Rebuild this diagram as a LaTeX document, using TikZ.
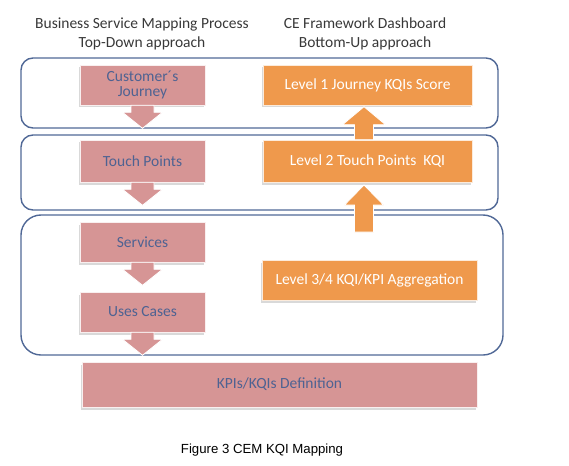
\documentclass[tikz,border=0pt]{standalone}
\usepackage{fontspec}
\setmainfont{Carlito}
\newfontfamily\capfont{Liberation Sans}
\usetikzlibrary{shadows}
\definecolor{rosefill}{RGB}{214,149,149}
\definecolor{rosetext}{RGB}{78,98,146}
\definecolor{orangefill}{RGB}{239,153,76}
\definecolor{frameblue}{RGB}{80,104,150}
\begin{document}
\begin{tikzpicture}[x=1pt,y=-1pt,
  frame/.style={draw=frameblue,line width=1.4pt,rounded corners=12pt},
  rosebox/.style={fill=rosefill,draw=white!85!rosefill,line width=0.6pt,text=rosetext,
    minimum width=125pt,minimum height=40pt,font=\fontsize{15.5}{15.5}\selectfont,align=center,
    drop shadow={shadow xshift=-1pt,shadow yshift=-2.5pt,fill=black!25,opacity=0.6}},
  levelbox/.style={fill=orangefill,draw=white!80!orangefill,line width=0.6pt,text=white,
    minimum width=209pt,minimum height=40pt,font=\fontsize{15.5}{16}\selectfont,
    drop shadow={shadow xshift=-1pt,shadow yshift=-2.5pt,fill=black!25,opacity=0.6}},
  downarr/.style={fill=rosefill,draw=white,line width=0.8pt},
  uparr/.style={fill=orangefill,draw=white,line width=0.8pt},
  heading/.style={font=\fontsize{15.5}{18.5}\selectfont,text=black!78,align=center}]
\useasboundingbox (0,0) rectangle (569,465);

% Headings of the two columns
\node[heading] (lefthead) at (142,34) {Business Service Mapping Process\\Top-Down approach};
\node[heading] (righthead) at (365,34) {CE Framework Dashboard\\Bottom-Up approach};

% Rounded frames of the three levels
\draw[frame] (21,58) rectangle (498,128);
\draw[frame] (21,135) rectangle (498,210);
\draw[frame,rounded corners=20pt] (21,215) rectangle (503,355);

% Top-down boxes
\node[rosebox] (cj) at (142.5,85) {Customer\textasciiacute s\\[-1pt]Journey};
\node[rosebox,minimum height=42pt] (tp) at (142.5,161) {Touch Points};
\node[rosebox] (sv) at (142.5,242) {Services};
\node[rosebox] (uc) at (142.5,312) {Uses Cases};
\node[rosebox,minimum width=395pt,minimum height=45pt] (kd) at (279.5,384.5) {KPIs/KQIs Definition};

% Bottom-up boxes
\node[levelbox] (l1) at (367.5,85) {Level 1 Journey KQIs Score};
\node[levelbox,minimum height=42pt] (l2) at (367.5,161) {Level 2 Touch Points\ \ KQI};
\node[levelbox,minimum width=215pt] (l3) at (369.5,280) {Level 3/4 KQI/KPI Aggregation};

% Block arrows going down
\foreach \n in {cj,tp,sv,uc}
  \path[downarr] (\n.south) ++(-11.5,0) -- ++(0,7) -- ++(-8.5,0) -- ++(20,16)
    -- ++(20,-16) -- ++(-8.5,0) -- ++(0,-7) -- cycle;

% Block arrows going up
\coordinate (base1) at ([xshift=-3.5pt]l2.north);
\coordinate (base2) at (364,232);
\path[uparr] (base1) ++(-9.5,0) -- ++(0,-15) -- ++(-12,0) -- ++(21.5,-18)
  -- ++(21.5,18) -- ++(-12,0) -- ++(0,15) -- cycle;
\path[uparr] (base2) ++(-9.5,0) -- ++(0,-27) -- ++(-10,0) -- ++(19.5,-20)
  -- ++(19.5,20) -- ++(-10,0) -- ++(0,27) -- cycle;

% Caption
\node[font=\capfont\fontsize{13.2}{15}\selectfont] (caption) at (262,450) {Figure 3 CEM KQI Mapping};
\end{tikzpicture}
\end{document}
